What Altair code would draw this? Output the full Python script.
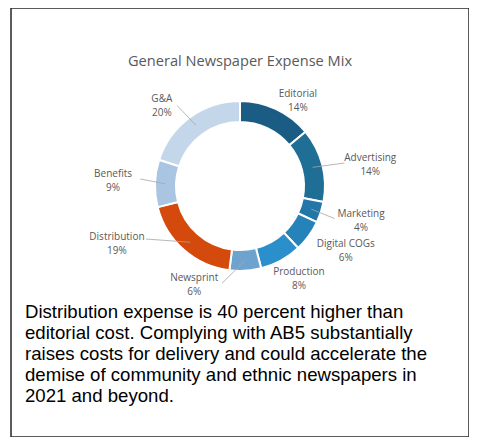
import math
import pandas as pd
import altair as alt

# ---- data ----
categories = ["Editorial", "Advertising", "Marketing", "Digital COGs", "Production",
              "Newsprint", "Distribution", "Benefits", "G&A"]
shares = [14, 14, 4, 6, 8, 6, 19, 9, 20]
colors = ["#1b5c84", "#1f6e96", "#2277a8", "#2683b9", "#2b8fcb",
          "#6fa3cf", "#d4490c", "#a9c5e1", "#c4d7ea"]
title_text = "General Newspaper Expense Mix"
caption_lines = [
    "Distribution expense is 40 percent higher than",
    "editorial cost. Complying with AB5 substantially",
    "raises costs for delivery and could accelerate the",
    "demise of community and ethnic newspapers in",
    "2021 and beyond.",
]

# ---- layout (not data) ----
CX, CY = 229, 178          # donut centre inside the plot area
R_IN, R_OUT = 64, 85
label_nudge = [2.5, 1.4, -0.5, -1.25, -1.0, 7.9, 6.5, 0.1, -2.3]   # percent-of-circle shift
label_radius = [103, 132, 126, 124, 110, 109, 136, 127, 112]
leader_ends = {  # category -> (end angle in degrees, end radius)
    "G&A": (322, 102),
    "Advertising": (77.6, 107),
    "Marketing": (109, 100),
    "Benefits": (274, 100),
    "Distribution": (240.6, 108),
    "Newsprint": (190.5, 99),
}

df = pd.DataFrame({"category": categories, "share": shares, "order": list(range(len(categories)))})
df["mid"] = df["share"].cumsum() - df["share"] / 2
df["lab_pct"] = df["mid"] + pd.Series(label_nudge)
df["lab_r"] = label_radius
df["label"] = df["category"] + "\n" + df["share"].astype(str) + "%"


def polar(deg, r):
    a = math.radians(deg)
    return CX + r * math.sin(a), CY - r * math.cos(a)


rows = []
for cat, (edeg, er) in leader_ends.items():
    mid = float(df.loc[df.category == cat, "mid"].iloc[0])
    x1, y1 = polar(mid * 3.6, 75)
    x2, y2 = polar(edeg, er)
    rows.append({"category": cat, "x1": x1, "y1": y1, "x2": x2, "y2": y2})
ldf = pd.DataFrame(rows)

theta_scale = alt.Scale(domain=[0, 100], range=[0, 2 * math.pi])

arcs = alt.Chart(df).mark_arc(innerRadius=R_IN, outerRadius=R_OUT, stroke="white", strokeWidth=2).encode(
    theta=alt.Theta("share:Q", stack=True, scale=theta_scale),
    color=alt.Color("category:N", scale=alt.Scale(domain=categories, range=colors), legend=None),
    order=alt.Order("order:Q"),
    x=alt.value(CX),
    y=alt.value(CY),
)

leaders = alt.Chart(ldf).mark_rule(color="#a6a6a6", strokeWidth=0.8).encode(
    x=alt.X("x1:Q", scale=None, axis=None),
    y=alt.Y("y1:Q", scale=None, axis=None),
    x2="x2:Q",
    y2="y2:Q",
)

labels = alt.Chart(df).mark_text(
    font="Open Sans", fontSize=10, color="#595959", lineBreak="\n", lineHeight=14,
    align="center", baseline="middle", dy=-7,
).encode(
    theta=alt.Theta("lab_pct:Q", stack=False, scale=theta_scale),
    radius=alt.Radius("lab_r:Q", scale=None),
    text="label:N",
    x=alt.value(CX),
    y=alt.value(CY),
)

title = alt.Chart(pd.DataFrame({"t": [title_text]})).mark_text(
    font="Open Sans", fontSize=14.6, color="#595959", align="center", baseline="middle",
).encode(text="t:N", x=alt.value(CX), y=alt.value(54))

caption = alt.Chart(pd.DataFrame({"t": ["\n".join(caption_lines)]})).mark_text(
    font="Liberation Sans", fontSize=18.6, color="#000000", align="left", baseline="alphabetic",
    lineBreak="\n", lineHeight=21,
).encode(text="t:N", x=alt.value(14), y=alt.value(310))

chart = alt.layer(arcs, leaders, labels, title, caption).properties(
    width=458, height=429,
    padding={"left": 3, "top": 0, "right": 0, "bottom": 0},
    background="white",
).configure_view(stroke="#262626", strokeWidth=1.5)

chart.save("out.html", embed_options={"renderer": "svg", "actions": False})
